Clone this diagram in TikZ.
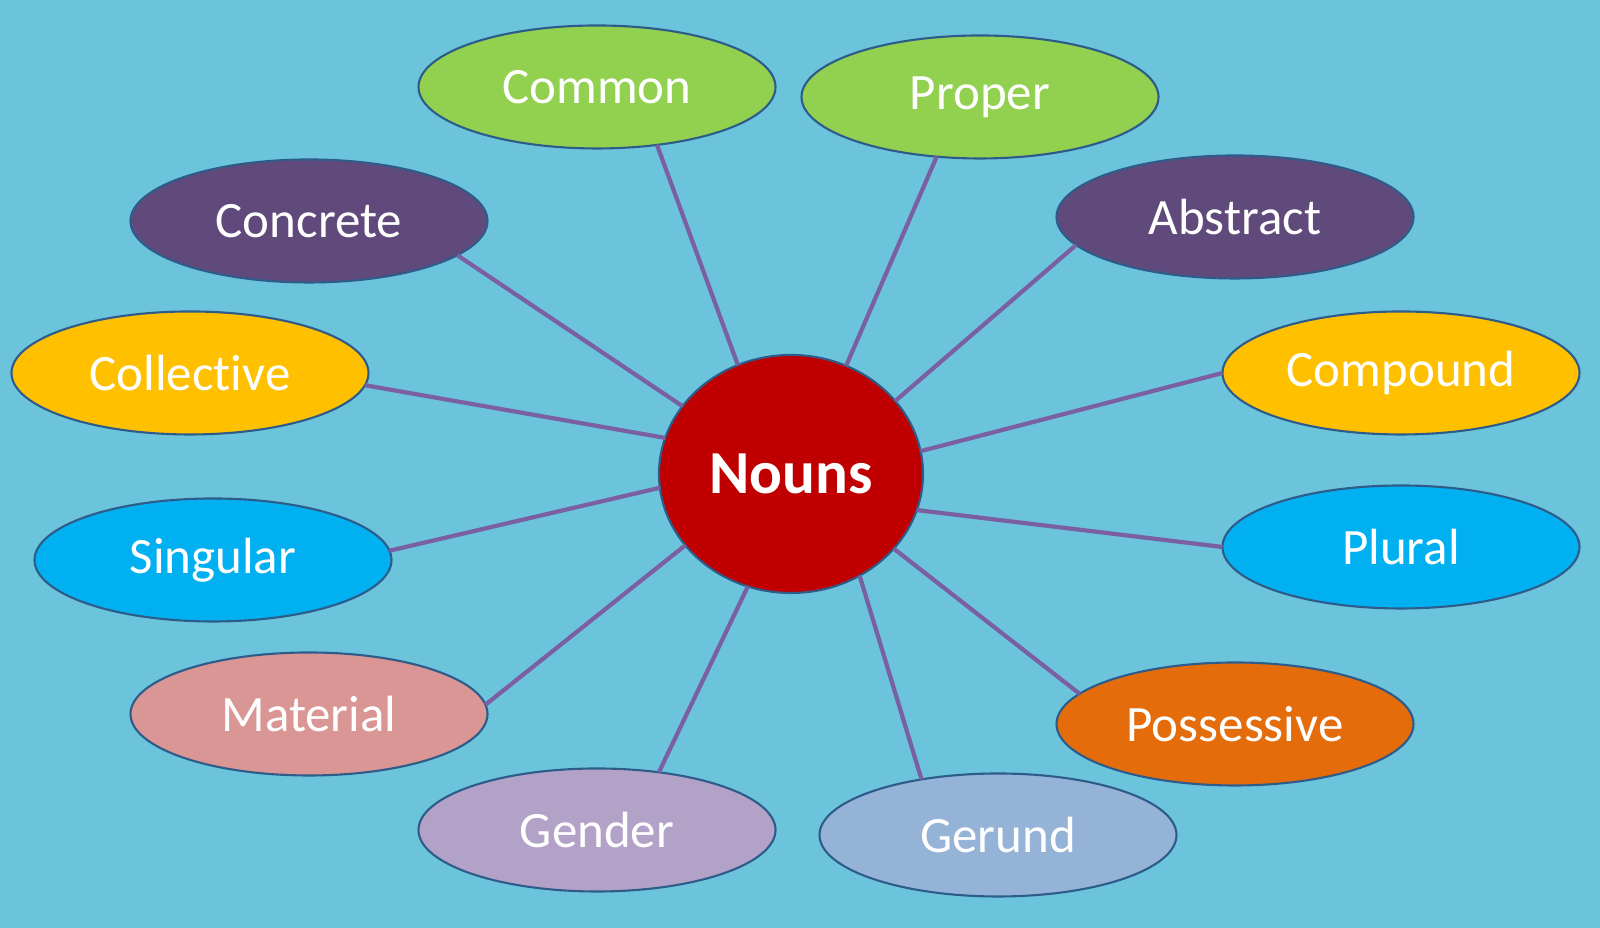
\documentclass[tikz,border=0pt]{standalone}
\usepackage{fontspec}
\setmainfont{Carlito}[RawFeature={-liga;-calt;-clig}]
\usetikzlibrary{shapes.geometric}

\definecolor{bgblue}{HTML}{6CC4DC}
\definecolor{rimblue}{HTML}{2E5C8A}
\definecolor{spoke}{HTML}{7A5FA3}
\definecolor{nounred}{HTML}{C00000}
\definecolor{leafgreen}{HTML}{92D050}
\definecolor{leafpurple}{HTML}{604A7B}
\definecolor{leafgold}{HTML}{FFC000}
\definecolor{leafblue}{HTML}{00B0F0}
\definecolor{leafpink}{HTML}{D99694}
\definecolor{leaforange}{HTML}{E46C0A}
\definecolor{leaflilac}{HTML}{B3A2C7}
\definecolor{leafsteel}{HTML}{95B3D7}

\begin{document}
\begin{tikzpicture}[every node/.style={outer sep=0pt}]
\tikzset{
    leaf/.style = {ellipse,draw=rimblue,line width=0.6pt,text=white,inner sep=0pt,
                        minimum width=3.57cm,minimum height=1.23cm,font=\fontsize{14.5}{17}\selectfont},
    hub/.style  = {ellipse,draw=rimblue,line width=0.6pt,fill=nounred,text=white,inner sep=0pt,
                        minimum width=2.64cm,minimum height=2.38cm,font=\fontsize{17.4}{20}\selectfont\bfseries},
    link/.style = {spoke,line width=1.2pt}
}

\fill[bgblue] (0,0) rectangle (16,9.28);
\useasboundingbox (0,0) rectangle (16,9.28);

%% the centre
\node (nouns) [hub] at (7.91,4.54) {Nouns};

%% left and right leaves
\node (common)     [leaf,fill=leafgreen]  at (5.97,8.41)  {Common};
\node (proper)     [leaf,fill=leafgreen]  at (9.80,8.31)  {Proper};
\node (concrete)   [leaf,fill=leafpurple] at (3.09,7.07)  {Concrete};
\node (abstract)   [leaf,fill=leafpurple] at (12.35,7.11) {Abstract};
\node (collective) [leaf,fill=leafgold]   at (1.90,5.55)  {Collective};
\node (compound)   [leaf,fill=leafgold]   at (14.01,5.55) {Compound};
\node (singular)   [leaf,fill=leafblue]   at (2.13,3.68)  {Singular};
\node (plural)     [leaf,fill=leafblue]   at (14.01,3.81) {Plural};
\node (material)   [leaf,fill=leafpink]   at (3.09,2.14)  {Material};
\node (possessive) [leaf,fill=leaforange] at (12.35,2.04) {Possessive};
\node (gender)     [leaf,fill=leaflilac]  at (5.97,0.98)  {Gender};
\node (gerund)     [leaf,fill=leafsteel]  at (9.98,0.93)  {Gerund};

%% spokes
\draw [link] (nouns.116.4) -- (common.-44);
\draw [link] (nouns.63)    -- (proper.234.8);
\draw [link] (nouns.148.4) -- (concrete.-13.1);
\draw [link] (nouns.35.4)  -- (abstract.190.8);
\draw [link] (nouns.164.2) -- (collective.-4.8);
\draw [link] (nouns.10.7)  -- (compound.180);
\draw [link] (nouns.186)   -- (singular.3.8);
\draw [link] (nouns.-16)   -- (plural.180);
\draw [link] (nouns.214.2) -- (material.3.8);
\draw [link] (nouns.-36.3) -- (possessive.169.2);
\draw [link] (nouns.249.2) -- (gender.43.7);
\draw [link] (nouns.-56.7) -- (gerund.144.5);

\end{tikzpicture}
\end{document}
